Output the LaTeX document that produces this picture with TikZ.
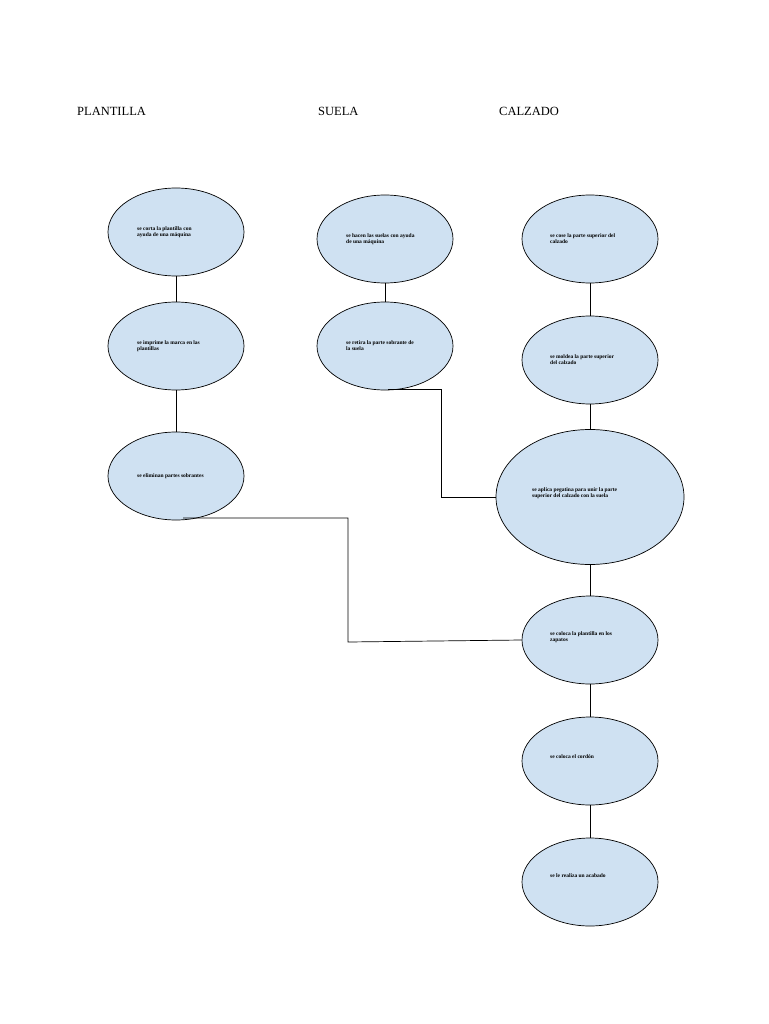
\documentclass[tikz,border=0pt]{standalone}
\usepackage{fontspec}
\setmainfont{Liberation Serif}
\usetikzlibrary{shapes.geometric}
\definecolor{fillb}{RGB}{207,225,242}
\begin{document}
\begin{tikzpicture}[x=1pt,y=-1pt,
  ov/.style={draw=black,fill=fillb,ellipse,minimum width=136pt,minimum height=88pt,line width=0.7pt},
  lbl/.style={anchor=west,align=left,font=\fontsize{5.5}{6}\selectfont\bfseries,inner sep=0pt},
  hd/.style={anchor=west,font=\fontsize{12.5}{14}\selectfont,inner sep=0pt},
  ln/.style={line width=0.7pt}]
\useasboundingbox[fill=white] (0,0) rectangle (768,1024);
\node[hd] (h1) at (77,111) {PLANTILLA};
\node[hd] (h2) at (318,111) {SUELA};
\node[hd] (h3) at (499,111) {CALZADO};
\node[ov] (a1) at (176,232) {};
\node[ov] (a2) at (176,346) {};
\node[ov] (a3) at (176,476) {};
\node[ov] (s1) at (385,239) {};
\node[ov] (s2) at (385,346) {};
\node[ov] (c1) at (590,239) {};
\node[ov] (c2) at (590,360) {};
\node[ov,minimum width=188pt,minimum height=135pt] (c3) at (590,497) {};
\node[ov] (c4) at (590,640) {};
\node[ov] (c5) at (590,761) {};
\node[ov] (c6) at (590,882) {};
\node[lbl] (ta1) at (137,232) {se corta la plantilla con\\ayuda de una máquina};
\node[lbl] (ta2) at (137,346) {se imprime la marca en las\\plantillas};
\node[lbl] (ta3) at (137,476) {se eliminan partes sobrantes};
\node[lbl] (ts1) at (346,239) {se hacen las suelas con ayuda\\de una máquina};
\node[lbl] (ts2) at (346,346) {se retira la parte sobrante de\\la suela};
\node[lbl] (tc1) at (550,239) {se cose la parte superior del\\calzado};
\node[lbl] (tc2) at (550,360) {se moldea la parte superior\\del calzado};
\node[lbl] (tc3) at (532,493) {se aplica pegatina para unir la parte\\superior del calzado con la suela};
\node[lbl] (tc4) at (550,637) {se coloca la plantilla en los\\zapatos};
\node[lbl] (tc5) at (550,757) {se coloca el cordón};
\node[lbl] (tc6) at (550,876) {se le realiza un acabado};
\draw[ln] (a1) -- (a2);
\draw[ln] (a2) -- (a3);
\draw[ln] (s1) -- (s2);
\draw[ln] (c1) -- (c2);
\draw[ln] (c2) -- (c3);
\draw[ln] (c3) -- (c4);
\draw[ln] (c4) -- (c5);
\draw[ln] (c5) -- (c6);
\draw[ln] (388,389) -- (441,389) -- (441,497) -- (c3.west);
\draw[ln] (183,518) -- (348,518) -- (348,642) -- (c4.west);
\end{tikzpicture}
\end{document}
